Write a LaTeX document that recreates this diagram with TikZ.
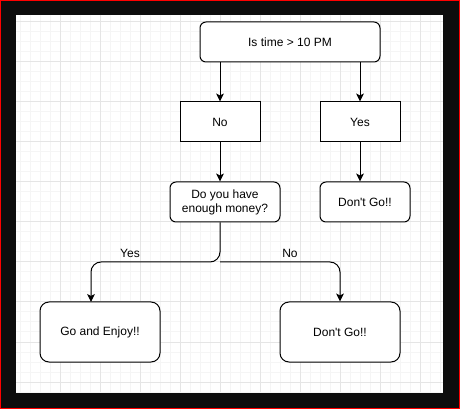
\documentclass[tikz,border=0pt]{standalone}
\usepackage{fontspec}
\setmainfont{Liberation Sans}
\usepackage{tikz}
\usetikzlibrary{arrows.meta,positioning,calc}

% sizes below are in px of the drawing (1px = 0.75pt)
\tikzset{
  box/.style={draw, line width=0.75pt, fill=white, minimum width=60pt, minimum height=30pt,
    inner sep=0pt, font=\fontsize{9pt}{10.5pt}\selectfont, align=center},
  roundbox/.style={box, rounded corners=4.5pt},
  bigbox/.style={roundbox, minimum width=90pt, minimum height=45pt, rounded corners=6.75pt},
  flow/.style={line width=0.75pt, rounded corners=7.5pt,
    -{Stealth[length=6pt,width=5.75pt,inset=1.5pt]}},
  lbl/.style={font=\fontsize{9pt}{10.5pt}\selectfont, inner sep=0pt}
}

\begin{document}
\begin{tikzpicture}[x=0.75pt,y=-0.75pt]
\useasboundingbox (0,0) rectangle (460,409);
% frame and grid
\fill[black!95] (0,0) rectangle (460,409);
\draw[red, line width=0.75pt] (0.5,0.5) rectangle (459.5,408.5);
\fill[white] (16,15) rectangle (443,392);
\foreach \gx in {20,30,...,440} \draw[black!4, line width=0.75pt] (\gx,15) -- (\gx,392);
\foreach \gy in {22,32,...,392} \draw[black!4, line width=0.75pt] (16,\gy) -- (443,\gy);
\foreach \gx in {60,100,...,420} \draw[black!10, line width=0.75pt] (\gx,15) -- (\gx,392);
\foreach \gy in {22,62,...,382} \draw[black!10, line width=0.75pt] (16,\gy) -- (443,\gy);

% nodes
\node[roundbox, minimum width=135pt] (time) at (290,42) {Is time > 10 PM};
\node[box] (no) at (220,122) {No};
\node[box] (yes) at (360,122) {Yes};
\node[roundbox, minimum width=82.5pt] (money) at (225,202) {Do you have\\enough money?};
\node[roundbox, minimum width=67.5pt] (stop) at (365,202) {Don\textquotesingle t Go!!};
\node[bigbox] (enjoy) at (100,332) {Go and Enjoy!!};
\node[bigbox] (dontgo) at (340,332) {Don\textquotesingle t Go!!};

\coordinate (split) at (220,262);
\coordinate (enjoyin) at (91,302);

% connectors
\draw[flow] (time.south -| no.north) -- (no.north);
\draw[flow] (time.south -| yes.north) -- (yes.north);
\draw[flow] (no.south) -- (no.south |- money.north);
\draw[flow] (yes.south) -- (yes.south |- stop.north);
\draw[flow] (no.south |- money.south) -- (split) -| (enjoyin);
\draw[flow] (split) -| (dontgo.north);

\node[lbl] (lblyes) at (130,253) {Yes};
\node[lbl] (lblno) at (290,253) {No};
\end{tikzpicture}
\end{document}
